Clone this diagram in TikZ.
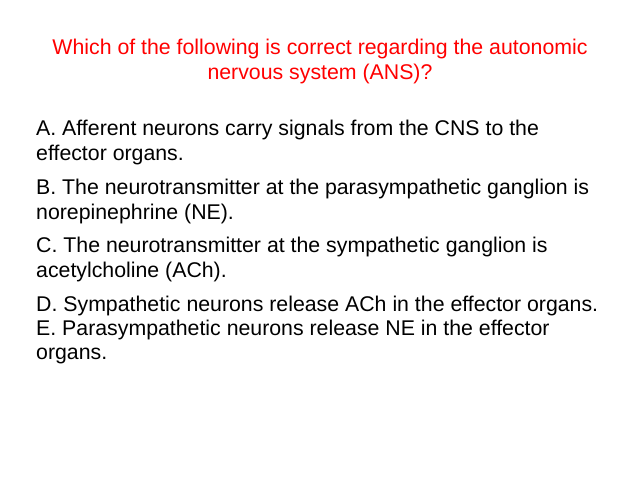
\documentclass[tikz,border=0pt]{standalone}
\usepackage{fontspec}
\setmainfont{Liberation Sans}
\begin{document}
\begin{tikzpicture}[x=1pt,y=-1pt,
  ttl/.style={anchor=base,text=red,font=\fontsize{21.3}{24}\selectfont,inner sep=0},
  bod/.style={anchor=base west,font=\fontsize{21.3}{24}\selectfont,inner sep=0}]
\useasboundingbox (0,0) rectangle (638,478);
\node[ttl] (t1) at (320,55) {Which of the following is correct regarding the autonomic};
\node[ttl] (t2) at (320,80) {nervous system (ANS)?};
\node[bod] (a1) at (36,136) {A. Afferent neurons carry signals from the CNS to the};
\node[bod] (a2) at (36,161) {effector organs.};
\node[bod] (b1) at (36,195) {B. The neurotransmitter at the parasympathetic ganglion is};
\node[bod] (b2) at (36,220) {norepinephrine (NE).};
\node[bod] (c1) at (36,253) {C. The neurotransmitter at the sympathetic ganglion is};
\node[bod] (c2) at (36,278) {acetylcholine (ACh).};
\node[bod] (d1) at (36,312) {D. Sympathetic neurons release ACh in the effector organs.};
\node[bod] (e1) at (36,336) {E. Parasympathetic neurons release NE in the effector};
\node[bod] (e2) at (36,360) {organs.};
\end{tikzpicture}
\end{document}
